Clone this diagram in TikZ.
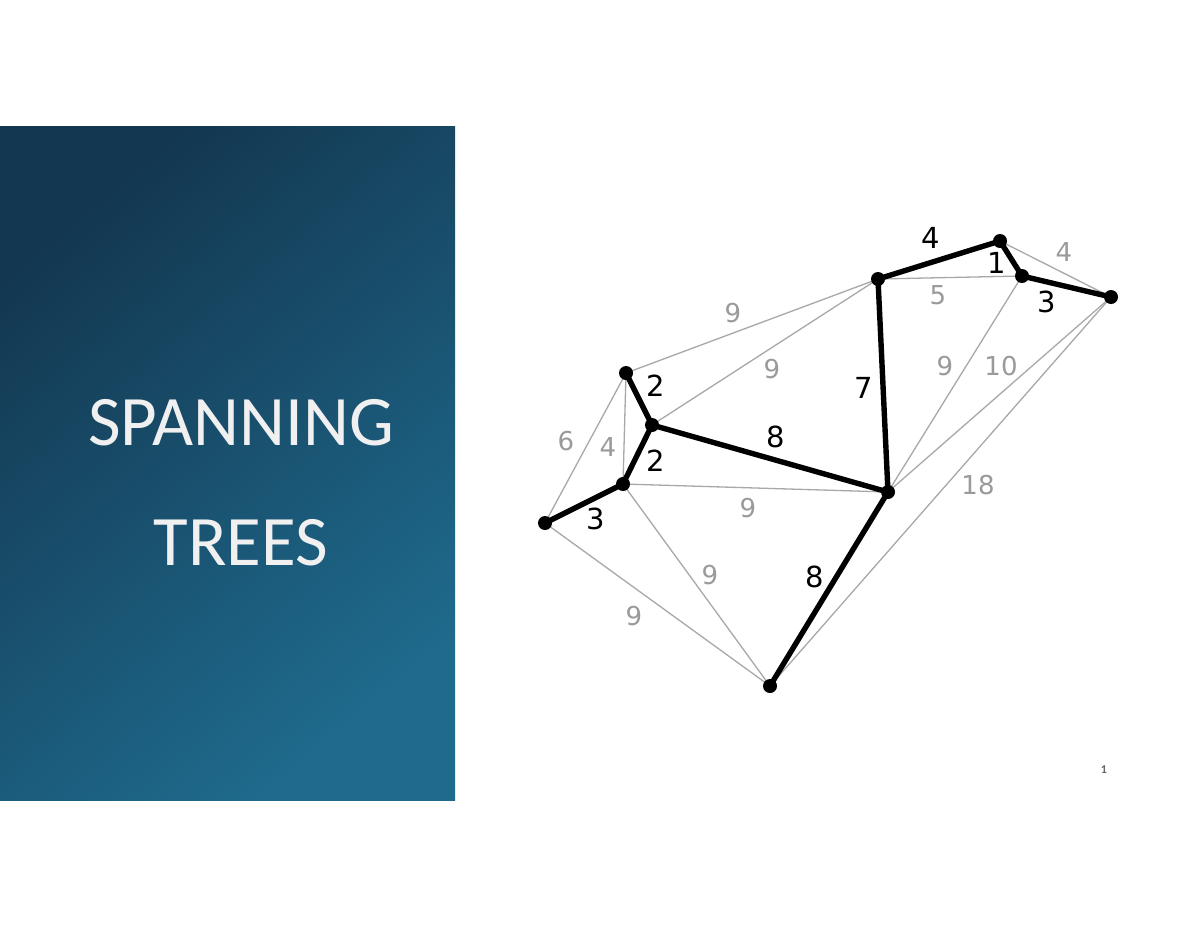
\documentclass[tikz,border=0pt]{standalone}
\usepackage{fontspec}
\setmainfont{DejaVu Sans}
\newfontfamily\titlefont{Carlito}
\begin{document}
\begin{tikzpicture}[x=1pt,y=-1pt,
  vtx/.style={circle,fill=black,inner sep=0pt,minimum size=14pt},
  tree/.style={line width=5.4pt,black,line cap=round},
  other/.style={line width=1.3pt,draw=edgegray},
  tlab/.style={font=\fontsize{29}{29}\selectfont,text=black,inner sep=0pt},
  olab/.style={font=\fontsize{26}{26}\selectfont,text=labgray,inner sep=0pt}]
\definecolor{edgegray}{HTML}{A8A8A8}
\definecolor{labgray}{HTML}{9A9A9A}
\definecolor{paneldark}{HTML}{133750}
\definecolor{panellight}{HTML}{1F6B8E}
\useasboundingbox (0,0) rectangle (1200,927);
\fill[white] (0,0) rectangle (1200,927);
\shade[shading=axis,top color=paneldark,bottom color=panellight,shading angle=40] (0,126) rectangle (455,800);
\node[font=\titlefont\fontsize{71}{71}\selectfont,text=white!94!black] (t1) at (241,423) {SPANNING};
\node[font=\titlefont\fontsize{71}{71}\selectfont,text=white!94!black] (t2) at (241,543) {TREES};
% vertices
\coordinate (A) at (626,373);
\coordinate (B) at (652,425);
\coordinate (C) at (623,484);
\coordinate (D) at (545,523);
\coordinate (E) at (878,279);
\coordinate (F) at (1000,241);
\coordinate (G) at (1022,276);
\coordinate (H) at (1111,297);
\coordinate (I) at (888,492);
\coordinate (J) at (770,686);
% other edges
\draw[other] (A) -- (E);
\draw[other] (B) -- (E);
\draw[other] (A) -- (D);
\draw[other] (A) -- (C);
\draw[other] (C) -- (I);
\draw[other] (C) -- (J);
\draw[other] (D) -- (J);
\draw[other] (E) -- (G);
\draw[other] (F) -- (H);
\draw[other] (G) -- (I);
\draw[other] (H) -- (I);
\draw[other] (H) -- (J);
% tree edges
\draw[tree] (A) -- (B);
\draw[tree] (B) -- (C);
\draw[tree] (C) -- (D);
\draw[tree] (B) -- (I);
\draw[tree] (E) -- (I);
\draw[tree] (E) -- (F);
\draw[tree] (F) -- (G);
\draw[tree] (G) -- (H);
\draw[tree] (I) -- (J);
\foreach \v in {A,B,C,D,E,F,G,H,I,J} \node[vtx] (n\v) at (\v) {};
% labels
\node[tlab] (l1) at (931,238) {4};
\node[tlab] (l2) at (997,263) {1};
\node[tlab] (l3) at (1047,302) {3};
\node[olab] (l4) at (1064,252) {4};
\node[olab] (l5) at (938,295) {5};
\node[olab] (l6) at (733,313) {9};
\node[olab] (l7) at (772,369) {9};
\node[tlab] (l8) at (864,388) {7};
\node[olab] (l9) at (945,366) {9};
\node[olab] (l10) at (1001,366) {10};
\node[tlab] (l11) at (656,386) {2};
\node[olab] (l12) at (566,441) {6};
\node[olab] (l13) at (608,447) {4};
\node[tlab] (l14) at (776,437) {8};
\node[tlab] (l15) at (656,461) {2};
\node[tlab] (l16) at (596,519) {3};
\node[olab] (l17) at (748,508) {9};
\node[olab] (l18) at (978,485) {18};
\node[olab] (l19) at (710,575) {9};
\node[tlab] (l20) at (815,577) {8};
\node[olab] (l21) at (634,616) {9};
\node[font=\titlefont\bfseries\fontsize{12}{12}\selectfont,text=black!60] (pg) at (1104,770) {1};
\end{tikzpicture}
\end{document}
